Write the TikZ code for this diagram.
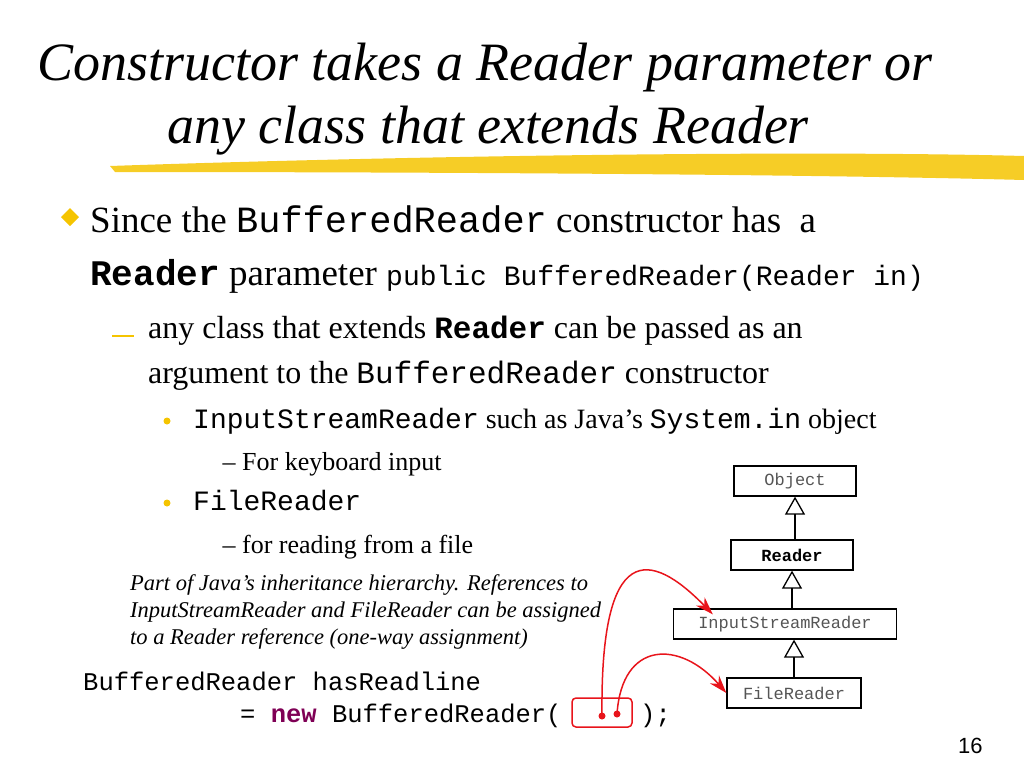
\documentclass[tikz,border=0pt]{standalone}
\usepackage{fontspec}
\setmainfont{Liberation Serif}
\setmonofont{Liberation Mono}
\setsansfont{Liberation Sans}
\usetikzlibrary{arrows.meta, positioning}
\definecolor{myellow}{HTML}{F5C400}
\definecolor{mred}{HTML}{E8141B}
\definecolor{mpurp}{HTML}{7F0055}
\definecolor{mgray}{HTML}{555555}
\tikzset{
  txt/.style = {anchor=base west, inner sep=0pt},
  cls/.style = {draw, line width=1.3pt, minimum height=30pt, font=\ttfamily\fontsize{17}{19}\selectfont, text=mgray},
  inherit/.style = {line width=1.3pt, -{Triangle[open, length=18pt, width=20pt, line width=1.3pt]}},
  link/.style = {line width=1.5pt, mred, -{Stealth[length=18pt, width=12pt]}}
}
\newcommand{\fs}[1]{\fontsize{#1}{#1}\selectfont}
\newcommand{\apos}{\char"0027\relax}
\begin{document}
\begin{tikzpicture}[x=1pt, y=-1pt]
  \useasboundingbox (0,0) rectangle (1024,768);
  % title
  \node (t1) [txt, anchor=base] at (485,80) {\fs{54}\itshape Constructor takes a Reader parameter or};
  \node (t2) [txt, anchor=base] at (488,143) {\fs{54}\itshape any class that extends Reader};
  \fill[myellow, opacity=.85] (110,166) .. controls (400,156) and (800,150) .. (1024,156)
    -- (1024,180) .. controls (800,174) and (400,172) .. (115,172) -- cycle;
  % bullets
  \fill[myellow] (70,208) -- (79,217) -- (70,226) -- (61,217) -- cycle;
  \node (l1) [txt] at (90,232) {\fs{37}Since the \texttt{\fs{37}BufferedReader} constructor has~ a};
  \node (l2) [txt] at (90,285) {\fs{37}\texttt{\fs{36}\bfseries Reader} parameter \texttt{\fs{28}public BufferedReader(Reader in)}};
  \draw[myellow, line width=1.2pt] (112,336) -- (134,336);
  \node (l3) [txt] at (148,338) {\fs{32}any class that extends \texttt{\fs{31}\bfseries Reader} can be passed as an};
  \node (l4) [txt] at (148,383) {\fs{32}argument to the \texttt{\fs{31}BufferedReader} constructor};
  \fill[myellow] (167,421) circle (3.5);
  \node (l5) [txt] at (193,428) {\fs{28}\texttt{\fs{28}InputStreamReader} such as Java\apos s \texttt{\fs{28}System.in} object};
  \node (l6) [txt] at (242,470) {\fs{26}\llap{-- }For keyboard input};
  \fill[myellow] (167,503) circle (3.5);
  \node (l7) [txt] at (193,510) {\fs{28}\texttt{\fs{28}FileReader}};
  \node (l8) [txt] at (242,553) {\fs{26}\llap{-- }for reading from a file};
  % note
  \node (n1) [txt] at (130,590) {\fs{22.5}\itshape Part of Java\apos s inheritance hierarchy. References to};
  \node (n2) [txt] at (130,617) {\fs{22.5}\itshape InputStreamReader and FileReader can be assigned};
  \node (n3) [txt] at (130,644) {\fs{22.5}\itshape to a Reader reference (one-way assignment)};
  % code
  \node (c1) [txt] at (83,690) {\ttfamily\fs{25.5}BufferedReader hasReadline};
  \node (c2) [txt] at (240,722) {\ttfamily\fs{25.5}= \textcolor{mpurp}{\bfseries new} BufferedReader(};
  \node (c3) [txt] at (640,722) {\ttfamily\fs{25.5});};
  \draw[mred, line width=1.5pt, rounded corners=4pt] (572,698) rectangle (632,727);
  \coordinate (d1) at (602,716);
  \coordinate (d2) at (617,714);
  \fill[mred] (d1) circle (3.5) (d2) circle (3.5);
  % hierarchy
  \node (obj) [cls, minimum width=122pt] at (795,481) {Object};
  \node (rdr) [cls, minimum width=122pt, text=black, font=\ttfamily\bfseries\fontsize{17}{19}\selectfont] at (792,555) {Reader};
  \node (isr) [cls, minimum width=223pt] at (785,624) {InputStreamReader};
  \node (fr)  [cls, minimum width=134pt] at (794,693) {FileReader};
  \draw [inherit] (rdr.north -| obj.south) -- (obj.south);
  \draw [inherit] (isr.north -| rdr.south) -- (rdr.south);
  \draw [inherit] (fr.north) -- (fr.north |- isr.south);
  \draw [link] (d1) .. controls (600,540) and (650,550) .. ([xshift=40pt, yshift=-6pt]isr.north west);
  \draw [link] (d2) .. controls (622,640) and (680,640) .. (fr.west);
  % page number
  \node (pg) [txt] at (958,753) {\sffamily\fs{22}16};
\end{tikzpicture}
\end{document}
